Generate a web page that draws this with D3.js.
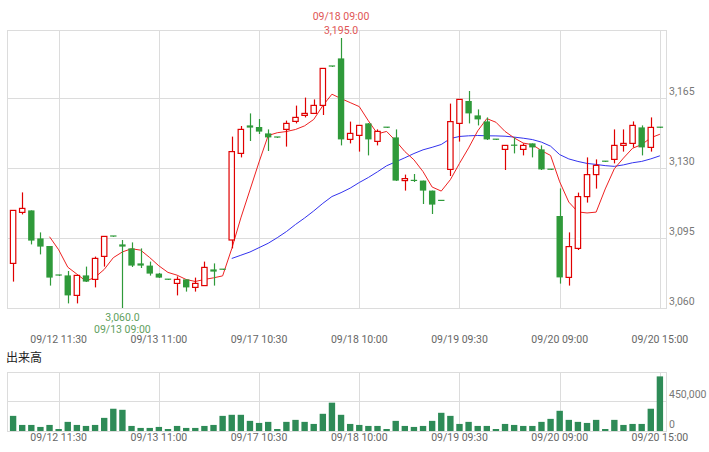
<!DOCTYPE html>
<html><head><meta charset="utf-8">
<script src="https://cdn.jsdelivr.net/npm/d3@7"></script>
<style>body{margin:0;background:#fff}svg{display:block}text{font-family:"Noto Sans CJK JP","Noto Sans",sans-serif}</style>
</head><body><svg id="c" width="709" height="452"></svg>
<script>
const days=["09/12","09/13","09/17","09/18","09/19","09/20"];
const sessionTimes=["09:00","09:30","10:00","10:30","11:00","11:30","12:30","13:00","13:30","14:00","14:30","15:00"];
const categories=days.flatMap(d=>sessionTimes.map(t=>d+" "+t));
const tickLabels=["09/12 11:30","09/13 11:00","09/17 10:30","09/18 10:00","09/19 09:30","09/20 09:00","09/20 15:00"];
const openV=[3082.3,3107.8,3108.8,3094.8,3091,3076.5,3076.3,3066.3,3076.3,3074.3,3085.8,3096,3091.8,3089.8,3082.3,3081.2,3077.2,3074.4,3072.3,3074.3,3070.3,3071.2,3079.3,3079.4,
3094,3137.3,3151.3,3150.5,3147.3,3145.5,3149.3,3153.3,3156.3,3157.3,3161.3,3181,3184.8,3144.3,3146.3,3152.3,3143.3,3150.4,3145.3,3123.7,3123.8,3123.7,3118.7,3113.8,
3129.3,3152.3,3163.5,3156.3,3153.3,3144.4,3139.3,3141.4,3139.3,3142.3,3139.3,3129.4,3106,3075.3,3089.8,3115.7,3126.7,3133.4,3134.3,3141.3,3142.3,3150.3,3140.3,3150.4];
const highV=[3108.8,3117.8,3108.8,3097.8,3091,3076.6,3078.5,3076.3,3080.7,3085.7,3095.8,3096,3094,3092.8,3089.8,3083.2,3077.5,3074.5,3075.8,3074.3,3075.2,3083.2,3082.3,3079.5,
3145.7,3151,3157.3,3154.5,3149.3,3145.5,3153.7,3161.2,3165.2,3164.3,3179.8,3181,3195,3153.2,3151.3,3152.5,3149.3,3150.5,3149.3,3126.7,3127,3123.7,3118.7,3114,
3162.2,3164.5,3168.5,3159.3,3155.3,3144.5,3141.3,3145.3,3142.3,3142.3,3141.3,3129.5,3119.8,3097.8,3117.7,3135.3,3134.3,3133.5,3149.3,3149.3,3153.3,3151.3,3155.3,3150.5];
const lowV=[3073.2,3106.8,3091.8,3086.8,3071.2,3076,3062.3,3062.3,3073,3070.3,3080.7,3095.6,3060,3080.5,3080,3076.2,3075,3074,3066.3,3068.2,3068.2,3071.2,3071.2,3079,
3089.8,3135.3,3143.5,3147,3138.5,3145,3140.7,3152.3,3155.3,3157,3156.5,3180.5,3141.3,3142.3,3138.2,3136.3,3141.3,3150,3123.5,3118.7,3123,3112,3107,3113.5,
3126,3143.2,3152.3,3151.3,3144,3144,3129,3137.3,3136.3,3135.3,3129,3129,3072.2,3071.2,3089,3112.7,3119.7,3133,3132.3,3138.2,3140.3,3136.3,3138.2,3150];
const closeV=[3108.8,3109.8,3093.7,3090.7,3075.2,3076.2,3066.3,3076.3,3073.2,3084.8,3095.8,3095.7,3090.7,3081.2,3081.2,3077.2,3075.2,3074.2,3074.3,3070.3,3072.3,3080.3,3078.2,3079.2,
3138.2,3149.3,3150.2,3148.2,3145.3,3145.2,3152.3,3155.3,3157.3,3161.3,3179.8,3180.8,3144.3,3147.3,3151.3,3144.3,3148.3,3150.2,3123.7,3124.7,3123.6,3118.7,3111.7,3113.6,
3153.2,3164.3,3157.3,3154.3,3144.3,3144.2,3141.3,3141.2,3141.3,3140.3,3129.3,3129.2,3075.3,3090.7,3115.7,3126.7,3131.3,3133.2,3141.3,3142.3,3151.3,3140.3,3150.3,3150.2];
const volumeV=[227000,91000,91000,61000,91000,30000,137000,91000,76000,91000,197000,334000,318000,76000,46000,46000,61000,30000,76000,46000,46000,76000,91000,227000,
243000,243000,152000,121000,137000,30000,137000,167000,137000,106000,258000,425000,243000,106000,91000,76000,76000,30000,152000,76000,61000,76000,152000,273000,
227000,106000,137000,76000,76000,30000,106000,91000,76000,76000,137000,182000,303000,167000,137000,121000,167000,30000,167000,91000,106000,106000,334000,819000];
const priceTicks=[3060,3095,3130,3165];
const volTicks=[0,450000];

const svg=d3.select("#c");
const L=7,R=666,T=30,B=308,VT=372,VB=431;
const RED="#e00000",GREEN="#2f9a3a",GRID="#dcdcdc";
const x=d3.scaleBand().domain(categories).range([L+2,R-2]).paddingInner(0.3).paddingOuter(0.1);
const xc=d=>x(d)+x.bandwidth()/2;
const y=d3.scaleLinear().domain([3060,3199]).range([B,T]);
const yv=d3.scaleLinear().domain([0,885000]).range([VB,VT]);

function panel(top,bot,pad){
  svg.append("rect").attr("x",L+.5).attr("y",top+.5).attr("width",R-L).attr("height",bot-top).attr("fill","none").attr("stroke",GRID);
  svg.append("g").selectAll("line").data(tickLabels).join("line")
    .attr("x1",d=>Math.round(xc(d))+.5).attr("x2",d=>Math.round(xc(d))+.5).attr("y1",top).attr("y2",bot).attr("stroke",GRID);
  const ax=svg.append("g").attr("transform",`translate(0,${bot})`)
    .call(d3.axisBottom(x).tickValues(tickLabels).tickSize(0).tickPadding(pad));
  ax.select(".domain").remove();
  ax.selectAll("text").attr("fill","#666").attr("font-size",10.5).style("font-family","Roboto,'Noto Sans',sans-serif");
}
panel(T,B,28);panel(VT,VB,3);

svg.append("g").selectAll("line").data(priceTicks).join("line")
  .attr("x1",L).attr("x2",R).attr("y1",d=>Math.round(y(d))+.5).attr("y2",d=>Math.round(y(d))+.5).attr("stroke",GRID);
const ay=svg.append("g").attr("transform",`translate(${R},0)`).call(d3.axisRight(y).tickValues(priceTicks).tickSize(0).tickPadding(3).tickFormat(d3.format(",")));
ay.select(".domain").remove();
ay.selectAll("text").attr("fill","#777").attr("font-size",10.5).attr("dy","-0.3em").style("font-family","Roboto,'Noto Sans',sans-serif");

svg.append("g").selectAll("line").data(volTicks).join("line")
  .attr("x1",L).attr("x2",R).attr("y1",d=>Math.round(yv(d))+.5).attr("y2",d=>Math.round(yv(d))+.5).attr("stroke",GRID);
const avy=svg.append("g").attr("transform",`translate(${R},0)`).call(d3.axisRight(yv).tickValues(volTicks).tickSize(0).tickPadding(3).tickFormat(d3.format(",")));
avy.select(".domain").remove();
avy.selectAll("text").attr("fill","#777").attr("font-size",10.5).attr("dy","-0.35em").style("font-family","Roboto,'Noto Sans',sans-serif");

svg.append("text").attr("x",6).attr("y",362).attr("font-size",12).attr("fill","#222").text("出来高");

const data=categories.map((c,i)=>({c,o:openV[i],h:highV[i],l:lowV[i],cl:closeV[i],v:volumeV[i]}));
svg.append("g").selectAll("rect").data(data).join("rect")
  .attr("x",d=>x(d.c)).attr("width",x.bandwidth()).attr("y",d=>yv(d.v)).attr("height",d=>yv(0)-yv(d.v)).attr("fill","#2e8b57");

function ma(n){return closeV.map((v,i)=>i<n-1?null:d3.mean(closeV.slice(i-n+1,i+1)));}
const line=d3.line().defined(d=>d[1]!=null).x(d=>xc(d[0])).y(d=>y(d[1]));
const ma5=ma(5),ma25=ma(25);
svg.append("path").attr("d",line(categories.map((c,i)=>[c,ma25[i]]))).attr("fill","none").attr("stroke","#3333ee").attr("stroke-width",1);
svg.append("path").attr("d",line(categories.map((c,i)=>[c,ma5[i]]))).attr("fill","none").attr("stroke","#ee2222").attr("stroke-width",1);

const g=svg.append("g");
data.forEach(d=>{
  const up=d.cl>d.o, col=up?RED:GREEN, cx=Math.round(xc(d.c))+.5;
  const top=y(Math.max(d.o,d.cl)), bot=y(Math.min(d.o,d.cl));
  g.append("line").attr("x1",cx).attr("x2",cx).attr("y1",y(d.h)).attr("y2",y(d.l)).attr("stroke",col).attr("stroke-width",1.2);
  if(bot-top<1.2){
    g.append("line").attr("x1",x(d.c)).attr("x2",x(d.c)+x.bandwidth()).attr("y1",top).attr("y2",top).attr("stroke",col).attr("stroke-width",1.2);
  } else if(up){
    g.append("rect").attr("x",x(d.c)+.5).attr("y",top).attr("width",x.bandwidth()-1).attr("height",bot-top).attr("fill","#fff").attr("stroke",col).attr("stroke-width",1.2);
  } else {
    g.append("rect").attr("x",x(d.c)).attr("y",top).attr("width",x.bandwidth()).attr("height",bot-top).attr("fill",col);
  }
});

const hi=d3.maxIndex(highV), lo=d3.minIndex(lowV);
const fmt=d3.format(",.1f");
svg.append("text").attr("x",xc(categories[hi])).attr("y",20).attr("text-anchor","middle").attr("font-size",10.5).attr("fill","#e05555").style("font-family","Roboto,sans-serif").text(categories[hi]);
svg.append("text").attr("x",xc(categories[hi])).attr("y",34).attr("text-anchor","middle").attr("font-size",10.5).attr("fill","#e05555").style("font-family","Roboto,sans-serif").text(fmt(highV[hi]));
svg.append("text").attr("x",xc(categories[lo])).attr("y",321).attr("text-anchor","middle").attr("font-size",10.5).attr("fill","#5fa060").style("font-family","Roboto,sans-serif").text(fmt(lowV[lo]));
svg.append("text").attr("x",xc(categories[lo])).attr("y",333).attr("text-anchor","middle").attr("font-size",10.5).attr("fill","#5fa060").style("font-family","Roboto,sans-serif").text(categories[lo]);
</script></body></html>
